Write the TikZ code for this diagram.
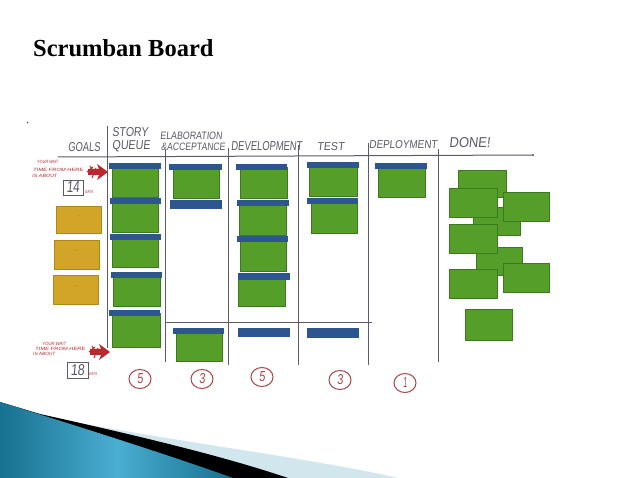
\documentclass[tikz,border=0pt]{standalone}
\usepackage{fontspec}
\usepackage{graphicx}
\setmainfont{Liberation Serif}
\newfontfamily\hwfont[FakeSlant=0.12]{Liberation Sans}
\usetikzlibrary{shapes.geometric}
\definecolor{cardgreen}{HTML}{569E2A}
\definecolor{cardedge}{HTML}{3C7A1E}
\definecolor{stripblue}{HTML}{2D5590}
\definecolor{cardyellow}{HTML}{D2A528}
\definecolor{yellowedge}{HTML}{B08818}
\definecolor{penline}{HTML}{5A5A6A}
\definecolor{penred}{HTML}{B8282C}
\definecolor{numred}{HTML}{A84444}
\definecolor{tealdark}{HTML}{17708F}
\definecolor{teallight}{HTML}{4AAED2}
\definecolor{paleblue}{HTML}{D2E6EE}
\newcommand\hw[3]{\resizebox{#1pt}{#2pt}{\hwfont #3}}
\newcommand\gcard[4]{\filldraw[greencard] (#1,#2) rectangle (#3,#4);}
\newcommand\bstrip[4]{\fill[bluestrip] (#1,#2) rectangle (#3,#4);}
\newcommand\ycard[4]{\filldraw[yellowcard] (#1,#2) rectangle (#3,#4);
  \fill[yellowedge] ({(#1+#3)/2},{(#2+#4)/2-4}) circle (0.7);}
\newcommand\redarrow[2]{%
  \begin{scope}[shift={(#1,#2)}]
    \fill[penred] (-20,-3) -- (-9,-3) -- (-11,-8) -- (0,0) -- (-11,8) -- (-9,3) -- (-20,3) -- cycle;
    \draw[penred, line width=1] (-18,-6) -- (-13,2) (-16,6) -- (-12,-4) (-21,0) -- (-15,-5);
  \end{scope}}
\tikzset{
  greencard/.style={fill=cardgreen, draw=cardedge, line width=0.6pt},
  bluestrip/.style={fill=stripblue},
  yellowcard/.style={fill=cardyellow, draw=yellowedge, line width=0.5pt},
  pen/.style={draw=penline, line width=1pt},
  lbl/.style={inner sep=0pt, text=penline},
  redlbl/.style={inner sep=0pt, text=penred},
  circnum/.style={draw=numred, ellipse, line width=1pt, minimum width=22pt, minimum height=19pt, inner sep=0pt, text=numred}
}
\begin{document}
\begin{tikzpicture}[x=1pt,y=-1pt]
\useasboundingbox (0,0) rectangle (638,478);
\fill[white] (0,0) rectangle (638,478);

% bottom decoration
\fill[paleblue] (85,424) .. controls (200,445) and (320,460) .. (398,478) -- (40,478) -- (40,414) -- cycle;
\fill[black] (40,414) .. controls (130,434) and (220,455) .. (288,478) -- (0,478) -- (0,402) -- cycle;
\shade[left color=tealdark, right color=tealdark, middle color=teallight] (0,402) .. controls (80,427) and (160,452) .. (233,478) -- (0,478) -- cycle;

% title
\node[anchor=base west, inner sep=0pt, font=\bfseries\fontsize{24.5}{28}\selectfont] (title) at (33,57) {Scrumban Board};
\fill[black!70] (27.5,122.5) circle (0.8);

% board lines
\draw[pen] (58,157) -- (533,155);
\fill[penline] (533,155) circle (1.2);
\draw[pen] (107,126) -- (107,348);
\draw[pen] (165,150) -- (165,362);
\draw[pen] (228,148) -- (228,365);
\draw[pen] (298,145) -- (298,365);
\draw[pen] (368,143) -- (368,365);
\draw[pen] (438,149) -- (438,362);
\draw[pen] (165,323) -- (372,323);

% headers
\node[lbl, anchor=south west] (goals) at (68,152) {\hw{32}{9}{GOALS}};
\node[lbl, anchor=south west] (story) at (112,137) {\hw{36}{9}{STORY}};
\node[lbl, anchor=south west] (queue) at (112,152) {\hw{38}{9}{QUEUE}};
\node[lbl, anchor=south west] (elab) at (160,139.5) {\hw{62}{7.5}{ELABORATION}};
\node[lbl, anchor=south west] (accept) at (161,151) {\hw{64}{7.5}{\&ACCEPTANCE}};
\node[lbl, anchor=south west] (devel) at (231,151) {\hw{71}{9}{DEVELOPMENT}};
\node[lbl, anchor=south west] (test) at (317,151) {\hw{27}{8}{TEST}};
\node[lbl, anchor=south west] (deploy) at (369,149) {\hw{68}{8}{DEPLOYMENT}};
\node[lbl, anchor=south west] (done) at (449,148) {\hw{41}{10}{DONE!}};

% wait time notes
\node[redlbl, anchor=south west] (w1a) at (37,164) {\hw{21}{3.2}{YOUR WAIT}};
\node[redlbl, anchor=south west] (w1b) at (33,172) {\hw{50}{3.2}{TIME FROM HERE}};
\node[redlbl, anchor=south west] (w1c) at (32,178) {\hw{25}{3.2}{IS ABOUT}};
\node[draw=penline, line width=0.7pt, minimum width=20pt, minimum height=15pt, inner sep=0pt, text=penline] (d14) at (73,187.5) {\hw{13}{11}{14}};
\node[redlbl, anchor=south west] (days1) at (85,194) {\hw{8}{3}{DAYS}};
\redarrow{108}{172}

\node[redlbl, anchor=south west] (w2a) at (42,346) {\hw{24}{3.2}{YOUR WAIT}};
\node[redlbl, anchor=south west] (w2b) at (35,351) {\hw{50}{3.2}{TIME FROM HERE}};
\node[redlbl, anchor=south west] (w2c) at (33,356) {\hw{22}{3.2}{IS ABOUT}};
\node[draw=penline, line width=0.7pt, minimum width=21pt, minimum height=16pt, inner sep=0pt, text=penline] (d18) at (77.5,370) {\hw{14}{11}{18}};
\node[redlbl, anchor=south west] (days2) at (89,376) {\hw{8}{3}{DAYS}};
\redarrow{110}{352}

% goals
\ycard{56}{206}{101}{233}
\ycard{54}{240}{99}{269}
\ycard{53}{275}{98}{304}

% story queue
\gcard{112}{166}{158}{197}\bstrip{109}{163}{161}{169}
\gcard{112}{201}{158}{232}\bstrip{110}{198}{161}{204}
\gcard{112}{237}{158}{267}\bstrip{110}{234}{161}{240}
\gcard{113}{275}{160}{306}\bstrip{111}{272}{162}{278}
\gcard{112}{313}{160}{347}\bstrip{109}{310}{160}{316}

% elaboration & acceptance
\gcard{173}{167}{219}{198}\bstrip{169}{164}{222}{170}
\bstrip{170}{200}{222}{209}
\gcard{176}{331}{222}{361}\bstrip{173}{328}{224}{334}

% development
\gcard{240}{167}{287}{198}\bstrip{236}{164}{287}{170}
\gcard{239}{203}{286}{235}\bstrip{237}{200}{289}{206}
\gcard{240}{239}{286}{271}\bstrip{237}{236}{288}{242}
\gcard{238}{276}{285}{306}\bstrip{238}{273}{290}{280}
\bstrip{238}{328}{290}{337}

% test
\gcard{309}{165}{357}{196}\bstrip{307}{162}{359}{168}
\gcard{311}{201}{357}{233}\bstrip{307}{198}{358}{204}
\bstrip{307}{328}{359}{338}

% deployment
\gcard{378}{166}{425}{197}\bstrip{375}{163}{427}{169}

% done
\gcard{458}{170}{506}{197}
\gcard{473}{207}{520}{235}
\gcard{476}{247}{522}{275}
\gcard{449}{188}{497}{217}
\gcard{503}{192}{549}{221}
\gcard{449}{224}{497}{253}
\gcard{503}{263}{549}{292}
\gcard{449}{269}{497}{298}
\gcard{465}{309}{512}{340}

% WIP limits
\node[circnum] (lim1) at (140,379) {\hw{6}{10}{5}};
\node[circnum] (lim2) at (202,379) {\hw{6}{10}{3}};
\node[circnum] (lim3) at (262,377) {\hw{6}{10}{5}};
\node[circnum] (lim4) at (340,380) {\hw{6}{10}{3}};
\node[circnum] (lim5) at (405,383) {\hw{4}{10}{1}};
\end{tikzpicture}
\end{document}
